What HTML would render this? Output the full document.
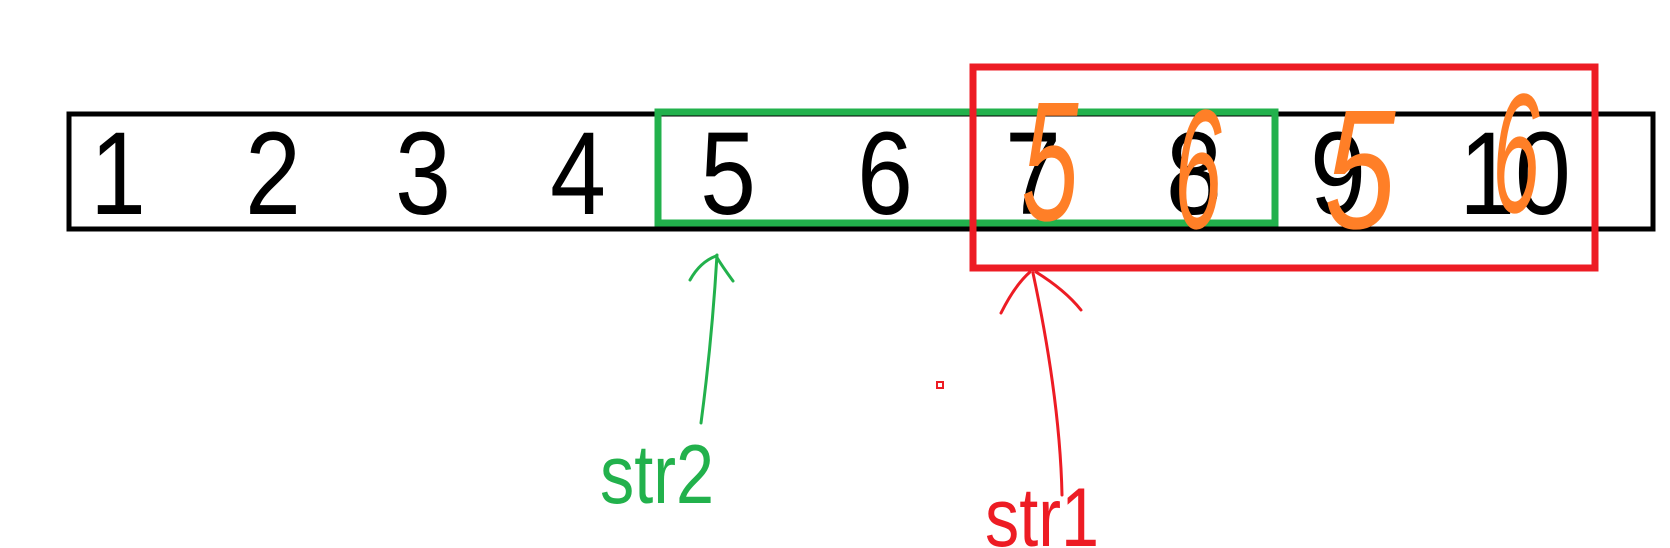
<!DOCTYPE html>
<html><head><meta charset="utf-8"><style>
html,body{margin:0;padding:0;background:#fff;width:1670px;height:548px;overflow:hidden}
</style></head><body>
<svg width="1670" height="548" viewBox="0 0 1670 548" xmlns="http://www.w3.org/2000/svg">
<rect x="69" y="114" width="1584" height="115" fill="#fff" stroke="#000" stroke-width="5"/>
<g font-family="Liberation Sans, sans-serif" font-size="118" fill="#000" text-anchor="middle">
<text transform="translate(118 214) scale(0.85 1)">1</text>
<text transform="translate(273 214) scale(0.85 1)">2</text>
<text transform="translate(423 214) scale(0.85 1)">3</text>
<text transform="translate(578 214) scale(0.85 1)">4</text>
<text transform="translate(728 214) scale(0.85 1)">5</text>
<text transform="translate(885 214) scale(0.85 1)">6</text>
<text transform="translate(1033 214) scale(0.85 1)">7</text>
<text transform="translate(1194 214) scale(0.85 1)">8</text>
<text transform="translate(1338 214) scale(0.85 1)">9</text>
<text transform="translate(1515 214) scale(0.85 1)">10</text>
</g>
<rect x="658" y="112" width="617" height="111" fill="none" stroke="#22b14c" stroke-width="7"/>
<rect x="973" y="67" width="622" height="201" fill="none" stroke="#ed1c24" stroke-width="7"/>
<g font-family="Liberation Sans, sans-serif" font-size="170" fill="#ff7f27" text-anchor="middle" font-style="italic">
<text transform="translate(1050 220) scale(0.6 1)">5</text>
<text transform="translate(1198 228) scale(0.5 1)">6</text>
<text transform="translate(1360 228) scale(0.75 1)">5</text>
<text transform="translate(1516 212) scale(0.5 1)">6</text>
</g>
<g fill="none" stroke="#22b14c" stroke-width="3" stroke-linecap="round">
<path d="M701 423 Q712 340 717 255"/><path d="M690 280 Q700 262 716 256"/><path d="M716 256 Q722 266 733 281"/>
</g>
<g fill="none" stroke="#ed1c24" stroke-width="3" stroke-linecap="round">
<path d="M1062 495 Q1060 400 1033 273"/><path d="M1001 313 Q1015 285 1030 272"/><path d="M1036 272 Q1065 290 1081 310"/>
</g>
<rect x="937" y="382" width="6" height="6" fill="none" stroke="#ed1c24" stroke-width="2"/>
<text transform="translate(600 503) scale(0.9 1.1)" font-family="Liberation Sans, sans-serif" font-size="76" fill="#22b14c">str2</text>
<text transform="translate(985 546) scale(0.9 1.1)" font-family="Liberation Sans, sans-serif" font-size="76" fill="#ed1c24">str1</text>
</svg>
</body></html>
